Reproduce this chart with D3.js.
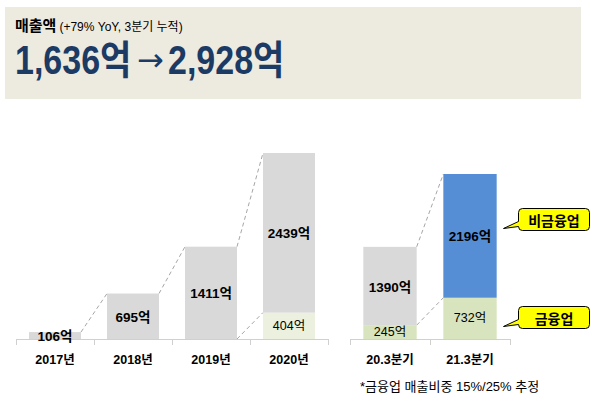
<!DOCTYPE html>
<html><head><meta charset="utf-8">
<script src="https://cdn.jsdelivr.net/npm/d3@7"></script>
<style>body{margin:0;background:#fff}svg{display:block}</style>
</head><body>
<script>
const leftCats = ['2017년','2018년','2019년','2020년'];
const leftNonFin = [106, 695, 1411, 2439];
const leftFin = [0, 0, 0, 404];
const rightCats = ['20.3분기','21.3분기'];
const rightNonFin = [1390, 2196];
const rightFin = [245, 732];
const calloutLabels = ['비금융업','금융업'];
const headerTitle = '매출액';
const headerSub = '(+79% YoY, 3분기 누적)';
const headerFrom = '1,636억';
const headerTo = '2,928억';
const footnote = '*금융업 매출비중 15%/25% 추정';

const W = 600, H = 395;
const FONT = '"Liberation Sans", Arial, "Noto Sans CJK KR", sans-serif';
const svg = d3.select('body').append('svg').attr('width', W).attr('height', H)
  .style('font-family', FONT);

// header
svg.append('rect').attr('x',5).attr('y',7).attr('width',576).attr('height',92).attr('fill','#edeae0');
const t1 = svg.append('text').attr('x',15).attr('y',31).attr('fill','#000');
t1.append('tspan').attr('font-size',15).attr('font-weight','bold').text(headerTitle);
t1.append('tspan').attr('font-size',12).attr('dx',3).text(headerSub);
svg.append('text').attr('transform','translate(15,74) scale(1,1.17)')
  .attr('fill','#1b3a64').attr('font-size',34).attr('font-weight','bold').text(headerFrom);
svg.append('text').attr('x',137).attr('y',71)
  .attr('fill','#1b3a64').attr('font-size',32)
  .style('font-family','"DejaVu Sans", sans-serif').style('font-weight','normal').text('→');
svg.append('text').attr('transform','translate(168,74) scale(1,1.17)')
  .attr('fill','#1b3a64').attr('font-size',34).attr('font-weight','bold').text(headerTo);

const baseY = 339;
const GRAY = '#d9d9d9', BLUE = '#558ed5';

function panel(cats, nonFin, fin, x0, x1, yTop, finColors, nonFinColors) {
  const totals = cats.map((c,i)=>nonFin[i]+fin[i]);
  const x = d3.scaleBand().domain(cats).range([x0,x1]).paddingInner(1/3).paddingOuter(1/6);
  const y = d3.scaleLinear().domain([0, d3.max(totals)]).range([baseY, yTop]);
  const g = svg.append('g');
  const step = x.step();
  g.append('line').attr('x1',x0).attr('x2',x1).attr('y1',baseY+0.5).attr('y2',baseY+0.5)
    .attr('stroke','#d0d0d0');
  const bounds = cats.map(c => x(c) - step*x.paddingInner()/2).concat([x1]);
  bounds[0] = x0;
  g.selectAll('.tk').data(bounds).join('line')
    .attr('x1',d=>Math.round(d)+0.5).attr('x2',d=>Math.round(d)+0.5)
    .attr('y1',baseY).attr('y2',baseY+6).attr('stroke','#d0d0d0');
  for (let i=0;i<cats.length-1;i++){
    g.append('line')
      .attr('x1',x(cats[i])+x.bandwidth()).attr('y1',y(totals[i]))
      .attr('x2',x(cats[i+1])).attr('y2',y(totals[i+1]))
      .attr('stroke','#a6a6a6').attr('stroke-dasharray','4,3');
    if (fin[i+1]>0){
      g.append('line')
        .attr('x1',x(cats[i])+x.bandwidth()).attr('y1',y(fin[i]))
        .attr('x2',x(cats[i+1])).attr('y2',y(fin[i+1]))
        .attr('stroke','#a6a6a6').attr('stroke-dasharray','4,3');
    }
  }
  cats.forEach((c,i)=>{
    if (fin[i]>0){
      g.append('rect').attr('x',x(c)).attr('width',x.bandwidth())
        .attr('y',y(fin[i])).attr('height',baseY-y(fin[i])).attr('fill',finColors[i]);
      g.append('text').attr('x',x(c)+x.bandwidth()/2).attr('y',(y(fin[i])+baseY)/2)
        .attr('text-anchor','middle').attr('dominant-baseline','central')
        .attr('font-size',12.5).attr('fill','#000').text(fin[i]+'억');
    }
    g.append('rect').attr('x',x(c)).attr('width',x.bandwidth())
      .attr('y',y(totals[i])).attr('height',y(fin[i])-y(totals[i])).attr('fill',nonFinColors[i]);
    g.append('text').attr('x',x(c)+x.bandwidth()/2).attr('y',(y(totals[i])+y(fin[i]))/2+1)
      .attr('text-anchor','middle').attr('dominant-baseline','central')
      .attr('font-size',13.5).attr('font-weight','bold').attr('fill','#000').text(nonFin[i]+'억');
    g.append('text').attr('x',x(c)+x.bandwidth()/2).attr('y',364)
      .attr('text-anchor','middle').attr('font-size',12.5).attr('font-weight','bold')
      .attr('fill','#000').text(c);
  });
}

panel(leftCats, leftNonFin, leftFin, 16, 328, 153,
  ['#ebf1de','#ebf1de','#ebf1de','#ebf1de'], [GRAY,GRAY,GRAY,GRAY]);
panel(rightCats, rightNonFin, rightFin, 350, 510, 174,
  ['#d7e4bd','#d7e4bd'], [GRAY, BLUE]);

svg.append('text').attr('x',360).attr('y',391).attr('font-size',13).attr('fill','#000').text(footnote);

function callout(bx0, by0, bx1, by1, tipX, tipY, label){
  const r = 4, wTop = by0 + 13;
  const p = `M${bx0+r},${by0} H${bx1-r} Q${bx1},${by0} ${bx1},${by0+r} V${by1-r} Q${bx1},${by1} ${bx1-r},${by1} H${bx0+r} Q${bx0},${by1} ${bx0},${by1-r} L${tipX},${tipY} L${bx0},${wTop} V${by0+r} Q${bx0},${by0} ${bx0+r},${by0} Z`;
  svg.append('path').attr('d',p).attr('fill','#ffff00').attr('stroke','#000').attr('stroke-width',1);
  svg.append('text').attr('x',(bx0+bx1)/2).attr('y',(by0+by1)/2+1)
    .attr('text-anchor','middle').attr('dominant-baseline','central')
    .attr('font-size',14).attr('font-weight','bold').attr('fill','#000').text(label);
}
callout(518.5, 208.5, 589.5, 230.5, 503.5, 228.5, calloutLabels[0]);
callout(518.5, 306.5, 589.5, 328.5, 503.5, 326.5, calloutLabels[1]);
</script>
</body></html>
